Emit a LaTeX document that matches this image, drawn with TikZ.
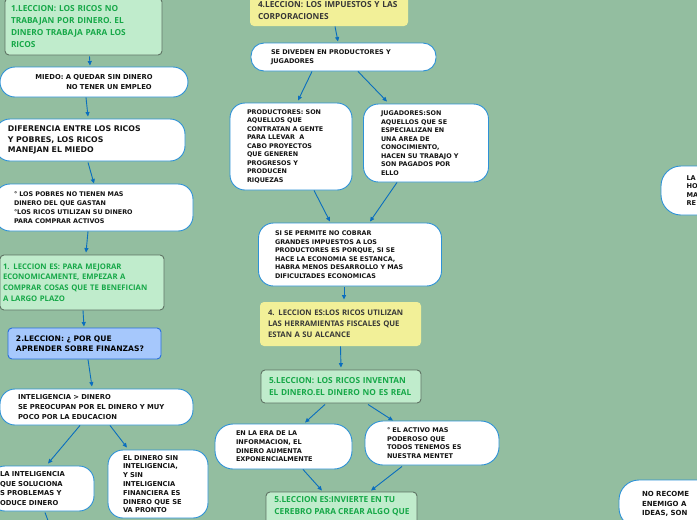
\documentclass[tikz,border=0pt]{standalone}
\usepackage{fontspec}
\setmainfont{DejaVu Sans}
\newfontfamily\osans{Open Sans}
\usetikzlibrary{arrows.meta,calc}
\definecolor{bgc}{RGB}{147,190,160}
\definecolor{grfill}{RGB}{192,236,204}
\definecolor{grtext}{RGB}{22,168,72}
\definecolor{grline}{RGB}{95,115,100}
\definecolor{yfill}{RGB}{242,240,152}
\definecolor{bfill}{RGB}{166,200,252}
\definecolor{bline}{RGB}{40,110,220}
\definecolor{wline}{RGB}{45,145,215}
\definecolor{arr}{RGB}{10,110,190}
\definecolor{dtext}{RGB}{20,20,20}
\tikzset{
 base/.style={inner sep=0pt,align=left,line width=0.9pt},
 wbox/.style={base,draw=wline,fill=white,rounded corners=15pt,font=\bfseries\fontsize{6.8}{9.6}\selectfont,text=dtext},
 gbox/.style={base,draw=grline,fill=grfill,rounded corners=4pt,font=\osans\bfseries\fontsize{8.3}{12}\selectfont,text=grtext},
 ybox/.style={base,draw=none,fill=yfill,rounded corners=4pt,font=\osans\bfseries\fontsize{8.3}{12}\selectfont,text=dtext!85},
 bbox/.style={base,draw=bline,fill=bfill,rounded corners=4pt,font=\bfseries\fontsize{7.6}{10.5}\selectfont,text=black},
 conn/.style={-{Triangle[length=4.5pt,width=4pt]},draw=arr,line width=0.9pt}
}
\begin{document}
\begin{tikzpicture}[x=1pt,y=-1pt]
\useasboundingbox (0,0) rectangle (697,520);
\fill[bgc] (0,0) rectangle (697,520);
\clip (0,0) rectangle (697,520);
% left column
\node[gbox,minimum width=157,minimum height=57,text width=145] (A) at (83.5,26.5) {1.LECCION: LOS RICOS NO\\TRABAJAN POR DINERO. EL\\DINERO TRABAJA PARA LOS\\RICOS};
\node[wbox,minimum width=188,minimum height=30,text width=170,align=center] (B) at (94,82) {MIEDO: A QUEDAR SIN DINERO\\\hspace*{30pt}NO TENER UN EMPLEO};
\node[wbox,minimum width=190,minimum height=42,text width=164,font=\bfseries\fontsize{7.8}{10.5}\selectfont] (C) at (90,140) {DIFERENCIA ENTRE LOS RICOS\\Y POBRES, LOS RICOS\\MANEJAN EL MIEDO};
\node[wbox,minimum width=198,minimum height=47,text width=160,font=\bfseries\fontsize{6.4}{9}\selectfont] (D) at (94,207.5) {° LOS POBRES NO TIENEN MAS\\DINERO DEL QUE GASTAN\\°LOS RICOS UTILIZAN SU DINERO\\PARA COMPRAR ACTIVOS};
\node[gbox,minimum width=164,minimum height=55,text width=158,font=\osans\bfseries\fontsize{7.7}{10.8}\selectfont] (E) at (82,282.5) {1. LECCION ES: PARA MEJORAR\\ECONOMICAMENTE, EMPEZAR A\\COMPRAR COSAS QUE TE BENEFICIAN\\A LARGO PLAZO};
\node[bbox,minimum width=153,minimum height=31,text width=137] (F) at (84.5,343.5) {2.LECCION: ¿ POR QUE\\APRENDER SOBRE FINANZAS?};
\node[wbox,minimum width=193,minimum height=36,text width=157] (G) at (96.5,407) {INTELIGENCIA > DINERO\\SE PREOCUPAN POR EL DINERO Y MUY\\POCO POR LA EDUCACION};
\node[wbox,minimum width=104,minimum height=45,text width=84] (H) at (42,488.5) {LA INTELIGENCIA\\QUE SOLUCIONA\\S PROBLEMAS Y\\ODUCE DINERO};
\node[wbox,minimum width=100,minimum height=68,text width=70,font=\bfseries\fontsize{6.7}{8.8}\selectfont] (I) at (158,484) {EL DINERO SIN\\INTELIGENCIA,\\Y SIN\\INTELIGENCIA\\FINANCIERA ES\\DINERO QUE SE\\VA PRONTO};
\coordinate (Hend) at (50,526);
% middle column
\node[ybox,minimum width=158,minimum height=31,text width=142] (J) at (329,10.5) {4.LECCION: LOS IMPUESTOS Y LAS\\CORPORACIONES};
\node[wbox,minimum width=185,minimum height=28,text width=145,rounded corners=13pt,font=\bfseries\fontsize{6.5}{9}\selectfont] (K) at (343.5,57) {SE DIVEDEN EN PRODUCTORES Y\\JUGADORES};
\node[wbox,minimum width=122,minimum height=87,text width=88,font=\bfseries\fontsize{6.4}{8.5}\selectfont] (L) at (291,146.5) {PRODUCTORES: SON\\AQUELLOS QUE\\CONTRATAN A GENTE\\PARA LLEVAR\ \ A\\CABO PROYECTOS\\QUE GENEREN\\PROGRESOS Y\\PRODUCEN\\RIQUEZAS};
\node[wbox,minimum width=125,minimum height=78,text width=90,font=\bfseries\fontsize{6.4}{8.5}\selectfont] (M) at (426,143) {JUGADORES:SON\\AQUELLOS QUE SE\\ESPECIALIZAN EN\\UNA AREA DE\\CONOCIMIENTO,\\HACEN SU TRABAJO Y\\SON PAGADOS POR\\ELLO};
\node[wbox,minimum width=183,minimum height=63,text width=150,font=\bfseries\fontsize{6.4}{8.5}\selectfont] (N) at (350,254.5) {SI SE PERMITE NO COBRAR\\GRANDES IMPUESTOS A LOS\\PRODUCTORES ES PORQUE, SI SE\\HACE LA ECONOMIA SE ESTANCA,\\HABRA MENOS DESARROLLO Y MAS\\DIFICULTADES ECONOMICAS};
\node[ybox,minimum width=161,minimum height=44,text width=145,font=\osans\bfseries\fontsize{7.7}{11}\selectfont] (O) at (340.5,324) {4. LECCION ES:LOS RICOS UTILIZAN\\LAS HERRAMIENTAS FISCALES QUE\\ESTAN A SU ALCANCE};
\node[gbox,minimum width=160,minimum height=33,text width=144] (P) at (341,386.5) {5.LECCION: LOS RICOS INVENTAN\\EL DINERO.EL DINERO NO ES REAL};
\node[wbox,minimum width=137,minimum height=45,text width=95,rounded corners=18pt,font=\bfseries\fontsize{6.5}{8.6}\selectfont] (Q) at (283.5,446.5) {EN LA ERA DE LA\\INFORMACION, EL\\DINERO AUMENTA\\EXPONENCIALMENTE};
\node[wbox,minimum width=134,minimum height=44,text width=90,rounded corners=18pt,font=\bfseries\fontsize{6.5}{8.6}\selectfont] (R) at (432,443) {° EL ACTIVO MAS\\PODEROSO QUE\\TODOS TENEMOS ES\\NUESTRA MENTET};
\node[gbox,minimum width=151,minimum height=48] (S) at (341.5,516) {};
\node[gbox,draw=none,fill=none,anchor=north west] (St) at (274,496) {5.LECCION ES:INVIERTE EN TU\\CEREBRO PARA CREAR ALGO QUE};
% right edge
\node[wbox,minimum width=79,minimum height=49,text width=28,rounded corners=20pt,font=\bfseries\fontsize{6.6}{8.5}\selectfont] (T) at (700.5,190.5) {LA\\HO\\MA\\RE};
\node[wbox,minimum width=141,minimum height=48,text width=95,rounded corners=20pt,font=\bfseries\fontsize{7}{9.6}\selectfont] (U) at (689.5,504) {NO RECOME\\ENEMIGO A\\IDEAS, SON};
% connectors
\draw[conn] ($(A.south)+(6,1)$) -- ($(B.north)+(-4,-1)$);
\draw[conn] ($(B.south)+(-8,0)$) -- ($(C.north)+(-2,-2)$);
\draw[conn] ($(C.south)+(-2,1)$) -- (D.north);
\draw[conn] ($(D.south)+(-6,0)$) -- ($(E.north)+(4,-2)$);
\draw[conn] ($(E.south)+(1,0)$) -- ($(F.north)+(-0.5,-1)$);
\draw[conn] ($(F.south)+(3.5,0)$) -- ($(G.north)+(-4.5,-2)$);
\draw[conn] ($(G.south)+(-16.5,0)$) -- ($(H.north)+(6,-2)$);
\draw[conn] ($(G.south)+(13.5,0)$) -- ($(I.north)+(-31,-2)$);
\draw[conn] ($(H.south)+(3,1)$) -- (Hend);
\draw[conn] ($(J.south)+(6,0)$) -- ($(K.north)+(-5.5,-1)$);
\draw[conn] ($(K.south)+(-31.5,0)$) -- ($(L.north)+(7,-2)$);
\draw[conn] ($(K.south)+(14.5,0)$) -- ($(M.north)+(-39,-2)$);
\draw[conn] ($(L.south)+(23,0)$) -- ($(N.north)+(-20,-1)$);
\draw[conn] ($(M.south)+(-29,0)$) -- ($(N.north)+(20,-1)$);
\draw[conn] ($(N.south)+(-6,1)$) -- ($(O.north)+(3.5,-2)$);
\draw[conn] (O.south) -- ($(P.north)+(0,-2)$);
\draw[conn] ($(P.south)+(-16,1)$) -- ($(Q.north)+(21.5,-1)$);
\draw[conn] ($(P.south)+(27,1)$) -- ($(R.north)+(-39,0)$);
\draw[conn] ($(Q.south)+(19.5,0)$) -- ($(S.north)+(-19.5,-1)$);
\draw[conn] ($(R.south)+(-30,1)$) -- ($(S.north)+(29.5,-1)$);
\end{tikzpicture}
\end{document}
